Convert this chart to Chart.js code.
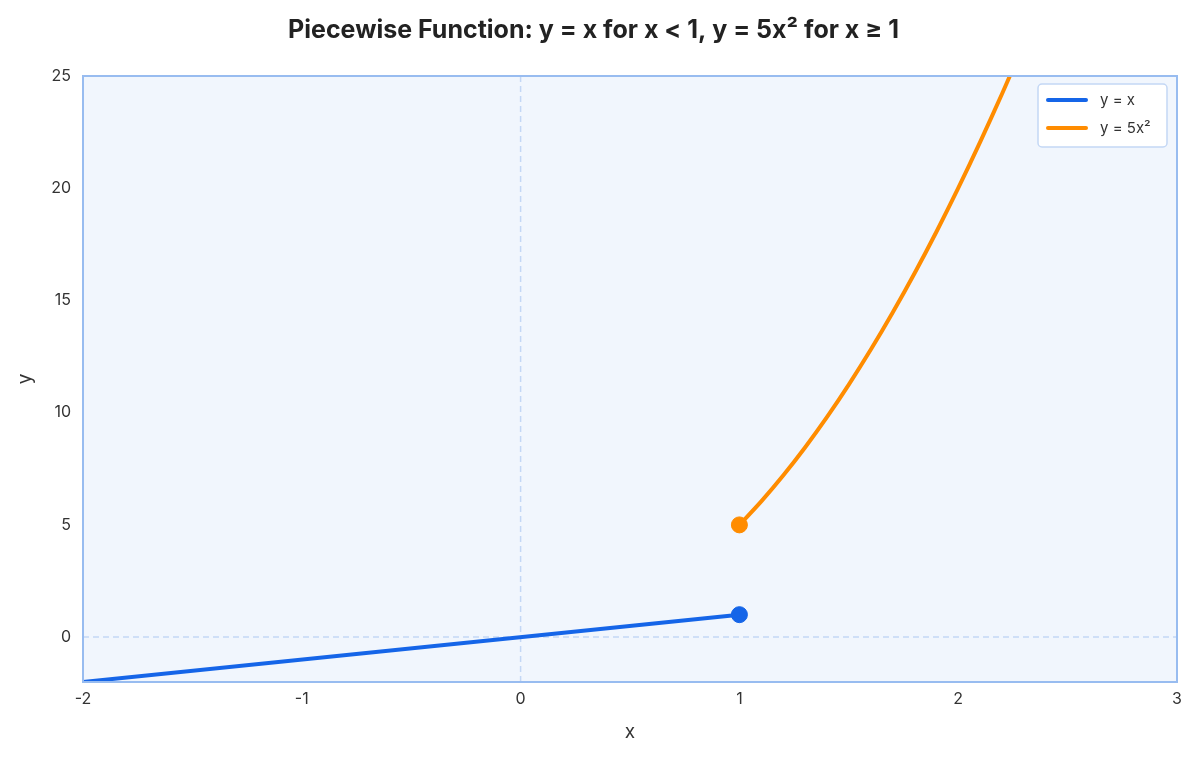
<!DOCTYPE html><html><head><meta charset="utf-8">
<script src="https://cdn.jsdelivr.net/npm/chart.js@4"></script>
<style>html,body{margin:0;background:#fff}#w{width:1200px;height:762px}</style></head><body>
<div id="w"><canvas id="c"></canvas></div>
<script>
const linX=[-2,1], linY=[-2,1];
const quadX=[1,1.1,1.2,1.3,1.4,1.5,1.6,1.7,1.8,1.9,2,2.1,2.2,2.236];
const quadY=[5,6.05,7.2,8.45,9.8,11.25,12.8,14.45,16.2,18.05,20,22.05,24.2,25];
const xTicks=[-2,-1,0,1,2,3], yTicks=[0,5,10,15,20,25];
const blue='#1565e8', orange='#ff8c00';
const pts=(xs,ys)=>xs.map((x,i)=>({x,y:ys[i]}));
const F="Inter, 'DejaVu Sans', sans-serif";
const extras={id:'extras',
 beforeDatasetsDraw(ch){const {ctx,chartArea:a,scales:{x,y}}=ch;ctx.save();ctx.fillStyle='#f1f6fd';ctx.fillRect(a.left,a.top,a.right-a.left,a.bottom-a.top);
  ctx.strokeStyle='#c3d7f5';ctx.lineWidth=1.5;ctx.setLineDash([6,4]);
  const px=x.getPixelForValue(0),py=y.getPixelForValue(0);
  ctx.beginPath();ctx.moveTo(px,a.top);ctx.lineTo(px,a.bottom);ctx.moveTo(a.left,py);ctx.lineTo(a.right,py);ctx.stroke();ctx.restore();},
 afterDraw(ch){const {ctx,chartArea:a}=ch;ctx.save();
  ctx.strokeStyle='#98bcf0';ctx.lineWidth=2;ctx.strokeRect(a.left,a.top,a.right-a.left,a.bottom-a.top);
  const lx=1038,ly=84,w=129,h=63;ctx.fillStyle='#fff';ctx.strokeStyle='#c3d7f5';ctx.lineWidth=1.5;
  ctx.beginPath();ctx.roundRect(lx,ly,w,h,4);ctx.fill();ctx.stroke();
  const items=[[ch.data.datasets[0].label,blue],[ch.data.datasets[2].label,orange]];
  ctx.font="15px "+F;ctx.textBaseline='middle';
  items.forEach((it,i)=>{const yy=ly+16+i*28;ctx.strokeStyle=it[1];ctx.lineWidth=4;ctx.lineCap='round';
   ctx.beginPath();ctx.moveTo(lx+10,yy);ctx.lineTo(lx+48,yy);ctx.stroke();ctx.fillStyle='#333';ctx.fillText(it[0],lx+62,yy);});
  ctx.restore();}};
new Chart(document.getElementById('c'),{type:'scatter',
 data:{datasets:[
  {label:'y = x',data:pts(linX,linY),showLine:true,borderColor:blue,borderWidth:4,pointRadius:0},
  {label:'',data:[{x:linX[1],y:linY[1]}],pointRadius:8,backgroundColor:blue,borderColor:blue},
  {label:'y = 5x²',data:pts(quadX,quadY),showLine:true,borderColor:orange,borderWidth:4,pointRadius:0,tension:0.3},
  {label:'',data:[{x:quadX[0],y:quadY[0]}],pointRadius:8,backgroundColor:orange,borderColor:orange}]},
 options:{responsive:true,maintainAspectRatio:false,animation:false,
  layout:{padding:{left:10,right:23,top:0,bottom:14}},
  plugins:{legend:{display:false},tooltip:{enabled:false},
   title:{display:true,text:'Piecewise Function: y = x for x < 1, y = 5x² for x ≥ 1',color:'#222',font:{family:F,size:25,weight:'bold'},padding:{top:15,bottom:31}}},
  scales:{
   x:{type:'linear',min:-2,max:3,afterBuildTicks:s=>{s.ticks=xTicks.map(v=>({value:v}))},
    grid:{color:'#dde6f2',borderDash:[2,3],drawTicks:false},border:{display:false},
    ticks:{color:'#333',font:{family:F,size:16},padding:8},
    title:{display:true,text:'x',color:'#333',font:{family:F,size:19},padding:{top:4}}},
   y:{min:-2,max:25,afterBuildTicks:s=>{s.ticks=yTicks.map(v=>({value:v}))},afterFit:s=>{s.width=73},
    grid:{color:'#dde6f2',borderDash:[2,3],drawTicks:false},border:{display:false},
    ticks:{color:'#333',font:{family:F,size:16},padding:12},
    title:{display:true,text:'y',color:'#333',font:{family:F,size:19}}}}},
 plugins:[extras]});
</script></body></html>
